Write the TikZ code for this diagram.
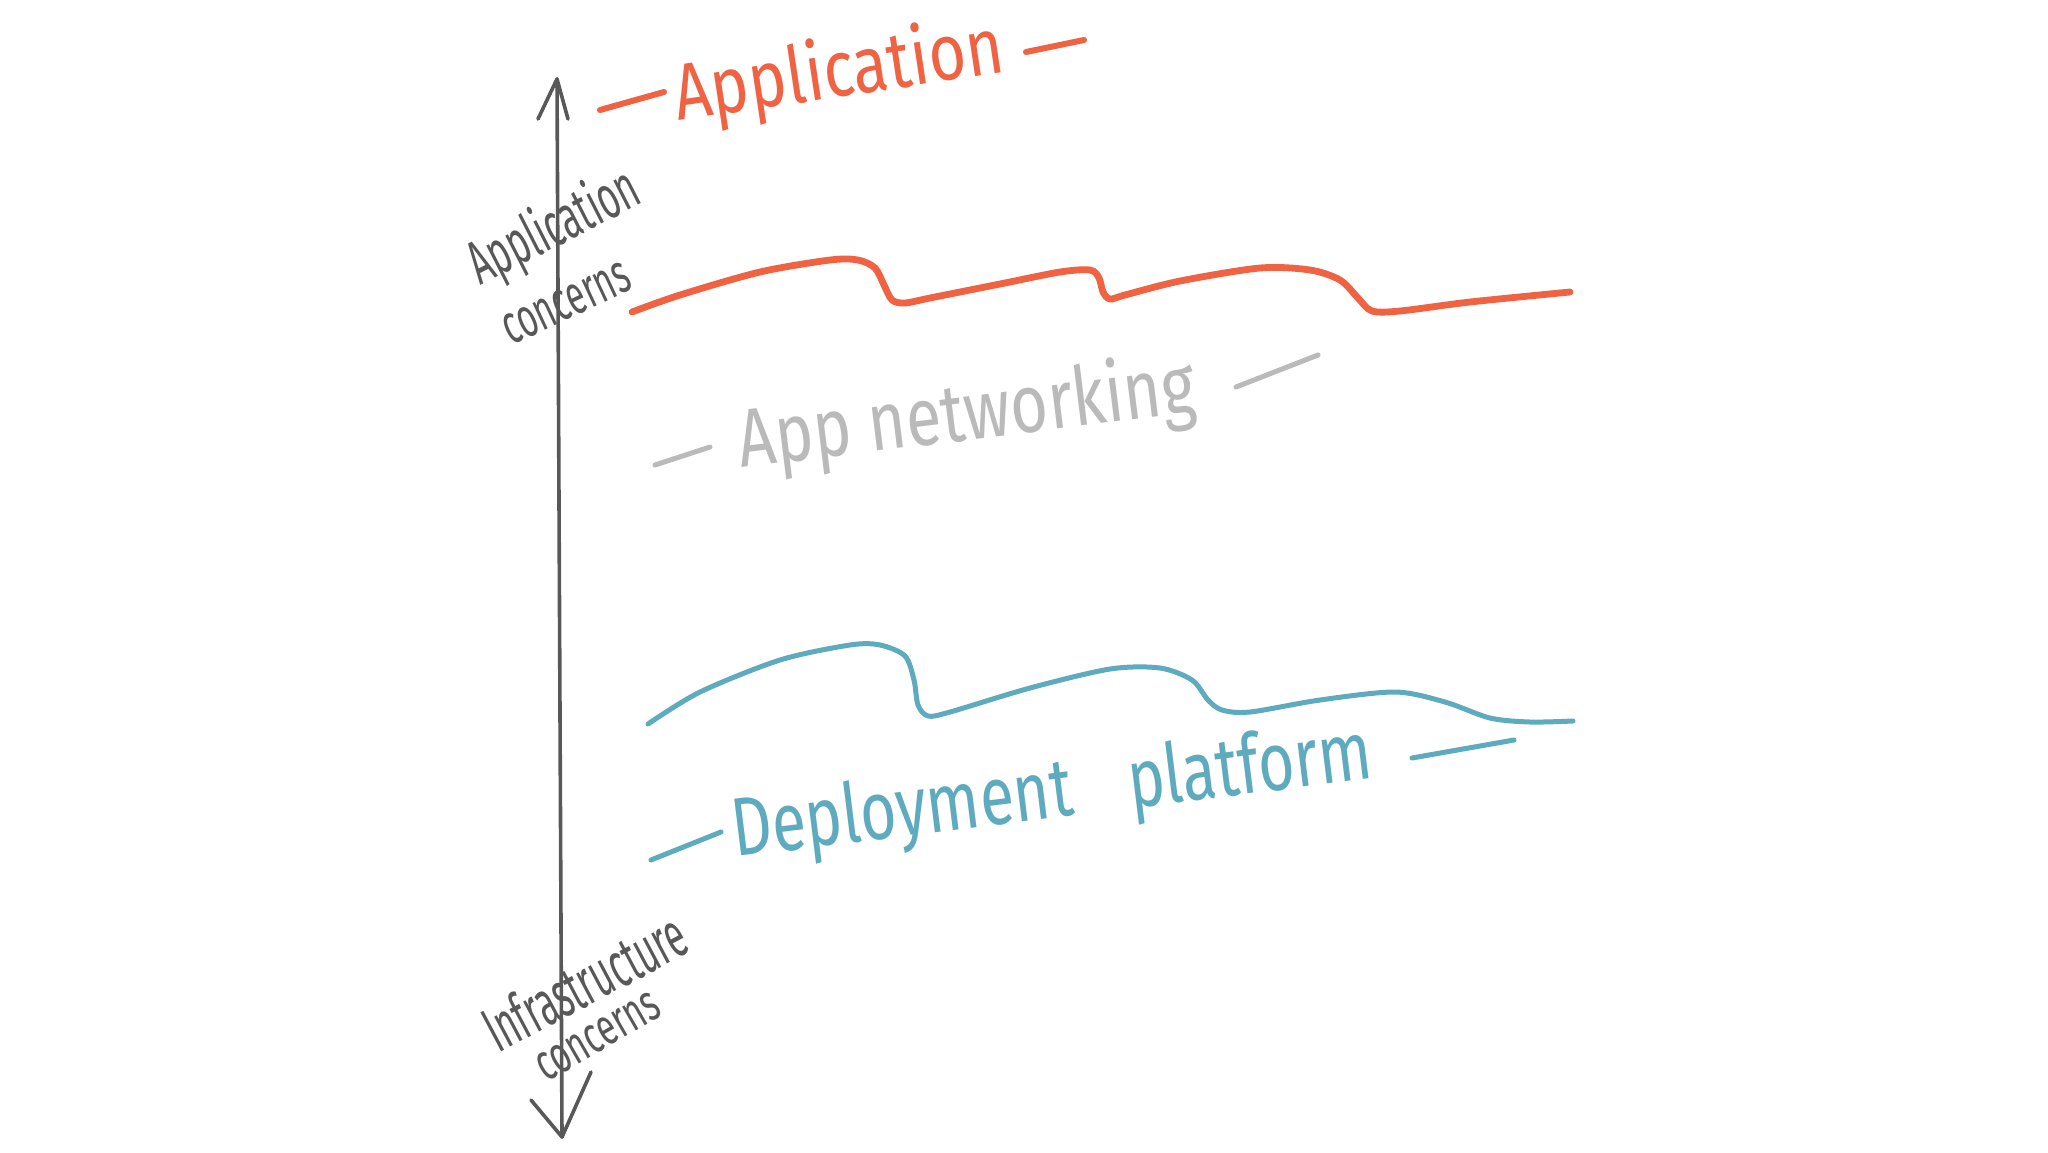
\documentclass[tikz,border=0pt]{standalone}
\usepackage{fontspec}
\setmainfont{Fira Sans}
\definecolor{appred}{RGB}{239,99,66}
\definecolor{netgray}{RGB}{186,186,186}
\definecolor{platteal}{RGB}{94,170,190}
\definecolor{axisgray}{RGB}{88,88,88}
\begin{document}
\begin{tikzpicture}[x=0.5pt,y=-0.5pt,
  pen/.style={line cap=round,line join=round},
  lbl/.style={inner sep=0pt,anchor=base west},
  axisline/.style={pen,draw=axisgray,line width=1.8pt},
  redline/.style={pen,draw=appred,line width=3.4pt},
  tealline/.style={pen,draw=platteal,line width=2.5pt},
  reddash/.style={pen,draw=appred,line width=3pt},
  graydash/.style={pen,draw=netgray,line width=2.5pt},
  tealdash/.style={pen,draw=platteal,line width=2.5pt}]
\useasboundingbox[fill=white] (0,0) rectangle (2048,1152);

% vertical axis
\coordinate (top) at (557,79);
\coordinate (bot) at (562,1137);
\draw[axisline] (top) -- (bot);
\draw[axisline] (top) ++(-19,40) -- (top) -- ++(11,40);
\draw[axisline] (bot) ++(-31,-37) -- (bot) -- ++(29,-65);

% axis labels
\node[lbl,text=axisgray,rotate=27] (appc1) at (480,286) {\resizebox{92pt}{24pt}{Application}};
\node[lbl,text=axisgray,rotate=25] (appc2) at (511,346) {\resizebox{68pt}{15pt}{concerns}};
\node[lbl,text=axisgray,rotate=28] (infc1) at (498,1054) {\resizebox{110pt}{24pt}{Infrastructure}};
\node[lbl,text=axisgray,rotate=30] (infc2) at (546,1083) {\resizebox{68pt}{14pt}{concerns}};

% Application layer
\node[lbl,text=appred,rotate=8.5] (app) at (678,121) {\resizebox{166pt}{31pt}{Application}};
\draw[reddash] (600,110) -- (664,92);
\draw[reddash] (1026,52) -- (1084,40);
\draw[redline] plot[smooth,tension=0.5] coordinates {(632,312) (680,295) (760,272) (830,260) (858,260) (875,268) (884,285) (892,300) (905,303) (930,298) (1000,284) (1060,272) (1090,270) (1099,278) (1103,292) (1110,299) (1125,295) (1180,281) (1260,268) (1310,270) (1340,280) (1358,298) (1372,311) (1400,311) (1470,302) (1570,292)};

% App networking
\node[lbl,text=netgray,rotate=7] (net) at (741,468) {\resizebox{230pt}{32pt}{App networking}};
\draw[graydash] (655,465) -- (710,447);
\draw[graydash] (1236,387) -- (1318,355);

% Deployment platform
\draw[tealline] plot[smooth,tension=0.5] coordinates {(648,724) (700,692) (780,660) (850,645) (880,645) (905,656) (914,680) (918,705) (928,716) (950,712) (1030,688) (1110,669) (1160,668) (1192,680) (1208,700) (1222,710) (1250,712) (1320,700) (1395,692) (1445,702) (1490,718) (1530,722) (1573,721)};
\node[lbl,text=platteal,rotate=7] (plat) at (735,857) {\resizebox{322pt}{31pt}{Deployment\hspace{0.9em}platform}};
\draw[tealdash] (651,860) -- (721,832);
\draw[tealdash] (1412,758) -- (1514,740);
\end{tikzpicture}
\end{document}
